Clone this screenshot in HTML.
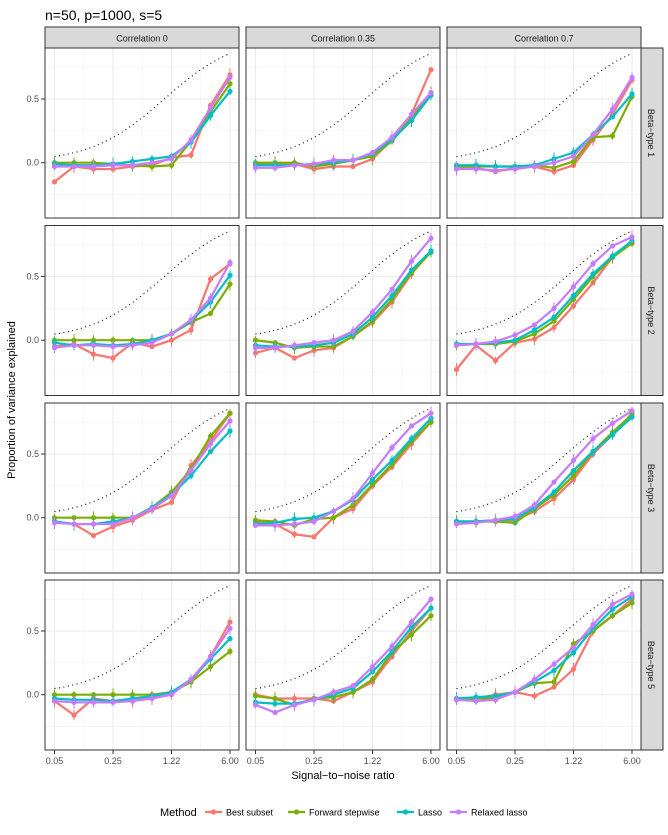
<!DOCTYPE html><html><head><meta charset="utf-8"><style>body{margin:0;background:#fff}svg{display:block;font-family:"Liberation Sans",sans-serif}</style></head><body>
<svg id="s" width="668" height="835" xmlns="http://www.w3.org/2000/svg"></svg>
<script>
const D=[
[[[-0.15,-0.03,-0.05,-0.05,-0.03,-0.02,0.04,0.06,0.45,0.69],[0,0,0,-0.01,-0.02,-0.03,-0.02,0.17,0.40,0.62],[-0.01,-0.02,-0.02,-0.01,0.01,0.03,0.05,0.16,0.37,0.56],[-0.03,-0.03,-0.03,-0.02,-0.02,0.0,0.03,0.18,0.43,0.67]],
 [[-0.01,-0.01,-0.01,-0.05,-0.03,-0.03,0.03,0.18,0.38,0.73],[0,0,0,-0.03,-0.01,0.02,0.05,0.17,0.35,0.55],[-0.02,-0.02,-0.02,-0.01,0.0,0.02,0.07,0.18,0.33,0.53],[-0.04,-0.04,-0.02,-0.01,0.02,0.02,0.08,0.2,0.38,0.55]],
 [[-0.03,-0.04,-0.07,-0.04,-0.03,-0.07,-0.02,0.18,0.38,0.65],[-0.03,-0.03,-0.03,-0.03,-0.02,-0.04,0.01,0.2,0.21,0.52],[-0.02,-0.02,-0.03,-0.03,-0.02,0.03,0.08,0.22,0.36,0.54],[-0.05,-0.05,-0.06,-0.05,-0.03,0.0,0.05,0.22,0.42,0.67]]],
[[[-0.05,-0.03,-0.11,-0.14,-0.02,-0.05,0.0,0.08,0.48,0.60],[0,0,0,0,0,0,0.05,0.14,0.21,0.44],[-0.02,-0.04,-0.03,-0.04,-0.03,0,0.05,0.15,0.3,0.51],[-0.06,-0.04,-0.04,-0.05,-0.04,-0.02,0.05,0.16,0.33,0.61]],
 [[-0.1,-0.06,-0.14,-0.08,-0.06,0.03,0.14,0.3,0.52,0.7],[0,-0.02,-0.06,-0.05,-0.05,0.03,0.15,0.32,0.53,0.69],[-0.04,-0.05,-0.05,-0.04,-0.02,0.05,0.18,0.35,0.55,0.7],[-0.06,-0.06,-0.04,-0.02,0.0,0.07,0.22,0.4,0.62,0.8]],
 [[-0.23,-0.04,-0.16,-0.02,0.01,0.1,0.27,0.45,0.65,0.77],[-0.04,-0.03,-0.03,-0.01,0.05,0.15,0.32,0.5,0.65,0.76],[-0.03,-0.03,-0.02,0.0,0.08,0.18,0.35,0.52,0.66,0.78],[-0.04,-0.03,-0.01,0.04,0.12,0.25,0.42,0.6,0.74,0.81]]],
[[[-0.03,-0.05,-0.14,-0.07,-0.02,0.06,0.12,0.41,0.6,0.82],[0,0,0,0,0.0,0.08,0.2,0.38,0.64,0.82],[-0.03,-0.05,-0.05,-0.03,0.0,0.08,0.18,0.33,0.52,0.68],[-0.04,-0.05,-0.05,-0.05,0.0,0.07,0.17,0.37,0.58,0.76]],
 [[-0.03,-0.05,-0.13,-0.15,0.0,0.07,0.25,0.4,0.58,0.75],[-0.02,-0.03,-0.06,-0.01,0.0,0.1,0.26,0.42,0.6,0.75],[-0.05,-0.04,-0.01,0.0,0.05,0.14,0.3,0.45,0.62,0.78],[-0.06,-0.06,-0.05,-0.03,0.05,0.15,0.35,0.55,0.72,0.82]],
 [[-0.03,-0.03,-0.02,-0.02,0.05,0.15,0.3,0.5,0.65,0.82],[-0.03,-0.03,-0.03,-0.04,0.07,0.18,0.33,0.52,0.67,0.81],[-0.03,-0.03,-0.02,-0.01,0.08,0.2,0.37,0.52,0.65,0.79],[-0.05,-0.04,-0.02,0.01,0.1,0.28,0.45,0.62,0.74,0.84]]],
[[[-0.05,-0.16,-0.03,-0.05,-0.05,-0.02,0.02,0.1,0.3,0.57],[0,0,0,0,0,0.0,0.02,0.1,0.22,0.34],[-0.03,-0.04,-0.04,-0.05,-0.03,-0.01,0.02,0.12,0.28,0.44],[-0.05,-0.06,-0.06,-0.06,-0.05,-0.03,0.0,0.12,0.3,0.52]],
 [[0,-0.03,-0.03,-0.03,-0.05,0.02,0.1,0.3,0.5,0.68],[-0.01,-0.03,-0.08,-0.03,-0.02,0.02,0.12,0.33,0.47,0.62],[-0.06,-0.07,-0.07,-0.04,0.0,0.05,0.18,0.34,0.53,0.68],[-0.08,-0.14,-0.08,-0.04,0.02,0.07,0.22,0.38,0.57,0.75]],
 [[-0.03,-0.03,0.0,0.02,-0.01,0.06,0.2,0.5,0.62,0.75],[-0.04,-0.03,-0.03,0.02,0.09,0.1,0.4,0.5,0.62,0.72],[-0.03,-0.02,-0.01,0.02,0.1,0.19,0.33,0.52,0.67,0.77],[-0.04,-0.05,-0.04,0.02,0.12,0.24,0.37,0.55,0.71,0.79]]]];
const C=["#F8766D","#7CAE00","#00BFC4","#C77CFF"];
const snr=[0.05,0.09,0.14,0.25,0.42,0.71,1.22,2.07,3.52,6.00];
let h='<text x="45" y="20" font-size="14" fill="#000">n=50, p=1000, s=5</text>';
const tops=[48,225.5,403,580],lefts=[45,246,447],W=194,H=170;
const cols=["Correlation 0","Correlation 0.35","Correlation 0.7"],rows=["Beta−type 1","Beta−type 2","Beta−type 3","Beta−type 5"];
lefts.forEach((L,c)=>{h+=`<rect x="${L}" y="27" width="${W}" height="21" fill="#D9D9D9" stroke="#333" stroke-width="1"/><text x="${L+W/2}" y="41.5" font-size="9" text-anchor="middle" fill="#1a1a1a">${cols[c]}</text>`;});
tops.forEach((T,r)=>{h+=`<rect x="641" y="${T}" width="22" height="${H}" fill="#D9D9D9" stroke="#333"/><text transform="translate(648,${T+H/2}) rotate(90)" font-size="9" text-anchor="middle" fill="#1a1a1a">${rows[r]}</text>`;
 h+=`<text x="39" y="${T+51+3}" font-size="9" text-anchor="end" fill="#4d4d4d">0.5</text><text x="39" y="${T+114.7+3}" font-size="9" text-anchor="end" fill="#4d4d4d">0.0</text><line x1="41" x2="45" y1="${T+51}" y2="${T+51}" stroke="#333"/><line x1="41" x2="45" y1="${T+114.7}" y2="${T+114.7}" stroke="#333"/>`;
 lefts.forEach((L,c)=>{
  const X=i=>L+9.5+i*19.5, Y=v=>T+114.7-v*127.4;
  h+=`<rect x="${L}" y="${T}" width="${W}" height="${H}" fill="#fff"/>`;
  [-0.25,0.25,0.75].forEach(v=>h+=`<line x1="${L}" x2="${L+W}" y1="${Y(v)}" y2="${Y(v)}" stroke="#f2f2f2" stroke-width="0.6"/>`);
  [1.5,4.5,7.5].forEach(i=>h+=`<line y1="${T}" y2="${T+H}" x1="${X(i)}" x2="${X(i)}" stroke="#f2f2f2" stroke-width="0.6"/>`);
  [0,0.5].forEach(v=>h+=`<line x1="${L}" x2="${L+W}" y1="${Y(v)}" y2="${Y(v)}" stroke="#ebebeb" stroke-width="1.1"/>`);
  [0,3,6,9].forEach(i=>h+=`<line y1="${T}" y2="${T+H}" x1="${X(i)}" x2="${X(i)}" stroke="#ebebeb" stroke-width="1.1"/>`);
  let pts=[];for(let k=0;k<=45;k++){const i=k/5,s=0.05*Math.pow(120,i/9);pts.push(X(i).toFixed(1)+","+Y(s/(1+s)).toFixed(1));}
  h+=`<polyline points="${pts.join(" ")}" fill="none" stroke="#000" stroke-width="1.1" stroke-dasharray="1,3.5"/>`;
  D[r][c].forEach((s,m)=>{const col=C[m];
   h+=`<polyline points="${s.map((v,i)=>X(i)+","+Y(v)).join(" ")}" fill="none" stroke="${col}" stroke-width="2.2"/>`;
   s.forEach((v,i)=>{const e=0.02+0.03*((i*7+m*3+r+c)%4)/3;h+=`<line x1="${X(i)}" x2="${X(i)}" y1="${Y(v-e)}" y2="${Y(v+e)}" stroke="${col}" stroke-width="1"/><circle cx="${X(i)}" cy="${Y(v)}" r="2.6" fill="${col}"/>`;});
  });
  h+=`<rect x="${L}" y="${T}" width="${W}" height="${H}" fill="none" stroke="#333" stroke-width="1"/>`;
 });
});
lefts.forEach(L=>{[0,3,6,9].forEach((i,k)=>{const x=L+9.5+i*19.5;h+=`<line x1="${x}" x2="${x}" y1="750" y2="754" stroke="#333"/><text x="${x}" y="764" font-size="9" text-anchor="middle" fill="#4d4d4d">${["0.05","0.25","1.22","6.00"][k]}</text>`;});});
h+=`<text x="343" y="779" font-size="11" text-anchor="middle">Signal−to−noise ratio</text>`;
h+=`<text transform="translate(15,400) rotate(-90)" font-size="11" text-anchor="middle">Proportion of variance explained</text>`;
h+=`<text x="160" y="816" font-size="11">Method</text>`;
[["Best subset",205],["Forward stepwise",288],["Lasso",397],["Relaxed lasso",450]].forEach(([t,x],m)=>{h+=`<line x1="${x}" x2="${x+17}" y1="812" y2="812" stroke="${C[m]}" stroke-width="2.2"/><circle cx="${x+8.5}" cy="812" r="2.6" fill="${C[m]}"/><text x="${x+21}" y="815.5" font-size="9">${t}</text>`;});
document.getElementById("s").innerHTML=h;
</script></body></html>
